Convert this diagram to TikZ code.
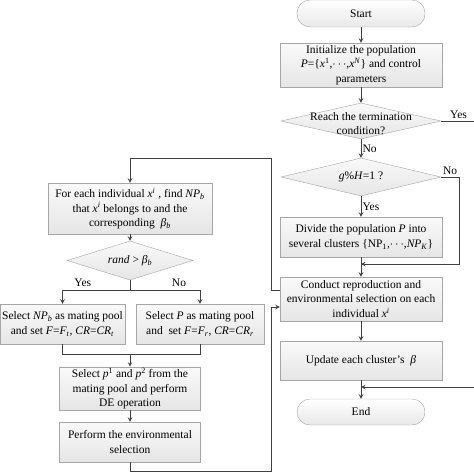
\documentclass[tikz,border=0pt]{standalone}
\usepackage{fontspec}
\setmainfont{Liberation Serif}
\usepackage{tikz}
\usetikzlibrary{shapes.geometric, arrows, arrows.meta, positioning, calc}
\tikzstyle{startstop} = [rectangle,
rounded corners=13pt,
minimum width=128pt,
minimum height=27pt,
text centered,
draw=black!35, top color=white, bottom color=black!9]
\tikzstyle{process} = [rectangle,
minimum width=162pt,
minimum height=40pt,
align=center,
inner sep=1pt,
draw=black!35,
top color=black!2, bottom color=black!10]
\tikzstyle{decision} = [diamond,
minimum width=160pt,
minimum height=37pt,
inner sep=0pt,
draw=black!35,
top color=black!2, bottom color=black!10]
\tikzstyle{arrow} = [line width=1pt, draw=black!75, ->, >=stealth]
\tikzstyle{connector} = [line width=1pt, draw=black!75]
% text of a diamond, kept out of its size
\newcommand{\dtext}[2][-3pt]{\smash{\raisebox{#1}{\makebox[0pt]{\begin{tabular}{@{}c@{}}#2\end{tabular}}}}}

\begin{document}
\begin{tikzpicture}[node distance=58pt, font=\fontsize{11.5}{14.5}\selectfont]
                \useasboundingbox (0,0) rectangle (474pt,-474pt);
                \node (start) [startstop] at (361pt,-13.5pt) {Start};
                \node (init) [process, minimum height=44pt, below of=start, yshift=6.5pt] {Initialize the population\\ \textit{P}=\{\textit{x}\textsuperscript{1},$\cdots$,\textit{x}\textsuperscript{\textit{N}}\} and control\\ parameters};
                \node (reach) [decision, minimum height=36pt, below of=init, yshift=2pt] {\dtext[-6.5pt]{Reach the termination\\ condition?}};
                \node (gcheck) [decision, minimum height=38pt, below of=reach, yshift=2pt] {\dtext{\textit{g}\%\textit{H}=1 ?}};
                \node (divide) [process, below of=gcheck, yshift=-2pt] {Divide the population \textit{P} into\\ several clusters \{NP\textsubscript{1},$\cdots$,\textit{NP}\textsubscript{\textit{K}}\}};
                \node (conduct) [process, minimum height=44pt, below of=divide, yshift=-4pt] {Conduct reproduction and\\ environmental selection on each\\ individual \textit{x}\textsuperscript{\textit{i}}};
                \node (update) [process, minimum height=39pt, below of=conduct, yshift=-3.5pt] {Update each cluster's\ \ \textit{β}};
                \node (stop) [startstop, minimum height=26pt, below of=update, yshift=6.5pt] {End};

                \node (foreach) [process, minimum width=164pt, minimum height=51pt, below of=gcheck, xshift=-231pt, yshift=26.5pt] {For each individual \textit{x}\textsuperscript{\textit{i}} , find \textit{NP}\textsubscript{\textit{b}}\\ that \textit{x}\textsuperscript{\textit{i}} belongs to and the\\ corresponding\ \ \textit{β}\textsubscript{\textit{b}}};
                \node (rand) [decision, minimum width=126pt, minimum height=39pt, below of=foreach, yshift=6pt] {\dtext{\textit{rand} > \textit{β}\textsubscript{\textit{b}}}};
                \node (selnp) [process, minimum width=125pt, below of=rand, xshift=-67.5pt, yshift=-5.5pt] {Select \textit{NP}\textsubscript{\textit{b}} as mating pool\\ and set \textit{F}=\textit{F}\textsubscript{\textit{t}}, \textit{CR}=\textit{CR}\textsubscript{\textit{t}}};
                \node (selp) [process, minimum width=128pt, below of=rand, xshift=70pt, yshift=-5.5pt] {Select \textit{P} as mating pool\\ and\ \ set \textit{F}=\textit{F}\textsubscript{\textit{r}}, \textit{CR}=\textit{CR}\textsubscript{\textit{r}}};
                \node (selpp) [process, minimum width=141pt, minimum height=43pt, below of=rand, yshift=-70pt] {Select \textit{p}\textsuperscript{1} and \textit{p}\textsuperscript{2} from the\\ mating pool and perform\\ DE operation};
                \node (perform) [process, minimum width=141pt, below of=selpp, yshift=4.5pt] {Perform the environmental\\ selection};

                \coordinate (mdiv) at ($(divide.south)!0.35!(conduct.north)$);
                \coordinate (mend) at ($(update.south)!0.37!(stop.north)$);
                \coordinate (rside) at (476pt,0);
                \coordinate (ltop) at ($(foreach.north)+(0,24pt)$);
                \coordinate (lbot) at ($(perform.south)+(0,-9pt)$);
                \coordinate (rsplit) at ($(rand.south)+(0,-10pt)$);
                \coordinate (msel) at ($(selpp.north)+(0,12pt)$);

                \draw [arrow] (start) -- (init);
                \draw [arrow] (init) -- (reach);
                \draw [arrow] (reach) -- node[anchor=west, inner sep=1pt] {No} (gcheck);
                \draw [arrow] (gcheck) -- node[anchor=west, inner sep=1pt] {Yes} (divide);
                \draw [arrow] (divide) -- (conduct);
                \draw [arrow] (conduct) -- (update);
                \draw [arrow] (update) -- (stop);
                \draw [arrow] (reach.east) -- node[above, inner sep=2pt] {Yes} (reach.east -| rside) |- (mend);
                \draw [arrow] (gcheck.east) -- node[above, inner sep=2pt] {No} ++(18pt,0) |- (mdiv);

                \draw [arrow] ([yshift=9pt]conduct.west) -- ++(-8pt,0) |- (ltop) -- (foreach.north);
                \draw [arrow] (perform.south) -- (lbot) -| ([xshift=-8pt,yshift=-8pt]conduct.west) -- ([yshift=-8pt]conduct.west);

                \draw [arrow] (foreach) -- (rand);
                \draw [connector] (rand.south) -- (rsplit);
                \draw [arrow] (rsplit) -| node[pos=0.35, above] {Yes} (selnp.north);
                \draw [arrow] (rsplit) -| node[pos=0.35, above] {No} (selp.north);
                \draw [connector] (selnp.south) |- (msel);
                \draw [connector] (selp.south) |- (msel);
                \draw [arrow] (msel) -- (selpp.north);
                \draw [arrow] (selpp) -- (perform);
            \end{tikzpicture}
\end{document}
